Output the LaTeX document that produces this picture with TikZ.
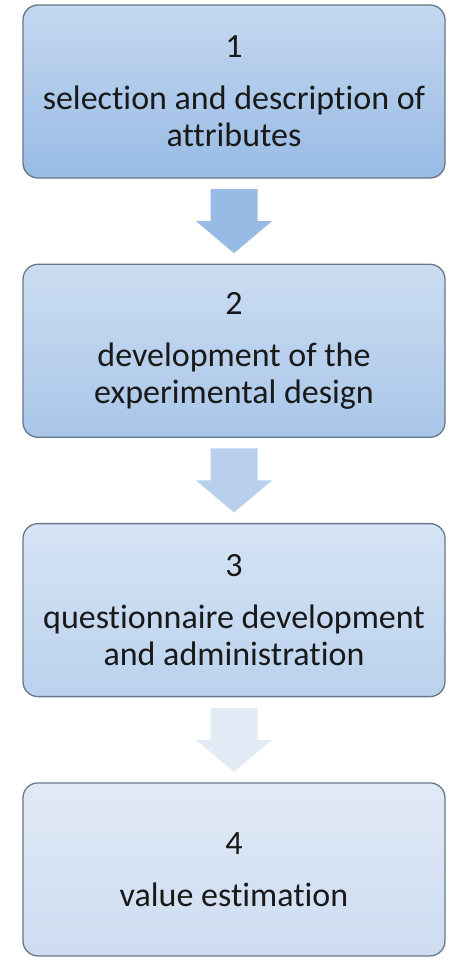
\documentclass[tikz,border=0pt]{standalone}
\usepackage{fontspec}
\setmainfont[Ligatures=NoCommon]{Carlito}
\usepackage{tikz}
\usetikzlibrary{positioning,calc}

\definecolor{boxline}{RGB}{105,118,135}
\definecolor{textgray}{RGB}{25,25,25}
\definecolor{topA}{RGB}{196,216,240}
\definecolor{botA}{RGB}{152,187,229}
\definecolor{topB}{RGB}{204,221,242}
\definecolor{botB}{RGB}{168,198,233}
\definecolor{topC}{RGB}{214,228,245}
\definecolor{botC}{RGB}{186,209,237}
\definecolor{topD}{RGB}{225,234,247}
\definecolor{botD}{RGB}{205,220,240}
\definecolor{arrowA}{RGB}{152,187,229}
\definecolor{arrowB}{RGB}{185,208,237}
\definecolor{arrowC}{RGB}{226,234,246}

\tikzset{
  stepbox/.style={draw=boxline, line width=1.3pt, rounded corners=15pt,
    minimum width=422pt, minimum height=173pt, inner sep=0pt,
    align=center, text=textgray, font=\fontsize{34}{37}\selectfont},
}

\begin{document}
\begin{tikzpicture}[x=1pt,y=1pt,node distance=85pt]
\useasboundingbox (0,0) rectangle (474,-961);

\node[stepbox, top color=topA, bottom color=botA] (s1) at (234,-91.5)
  {1\\[15pt]selection and description of\\attributes};
\node[stepbox, top color=topB, bottom color=botB, below=of s1] (s2)
  {2\\[15pt]development of the\\experimental design};
\node[stepbox, top color=topC, bottom color=botC, below=of s2] (s3)
  {3\\[15pt]questionnaire development\\and administration};
\node[stepbox, top color=topD, bottom color=botD, below=of s3] (s4)
  {4\\[15pt]value estimation};

% block arrows between the steps
\foreach \a/\b/\c in {s1/s2/arrowA, s2/s3/arrowB, s3/s4/arrowC}{
  \coordinate (m\a) at ($(\a.south)!0.5!(\b.north)$);
  \fill[\c] ($(m\a)+(-23.5,32)$) -- ($(m\a)+(23.5,32)$) -- ($(m\a)+(23.5,0)$)
    -- ($(m\a)+(38,0)$) -- ($(m\a)+(0,-32)$) -- ($(m\a)+(-38,0)$)
    -- ($(m\a)+(-23.5,0)$) -- cycle;
}
\end{tikzpicture}
\end{document}
